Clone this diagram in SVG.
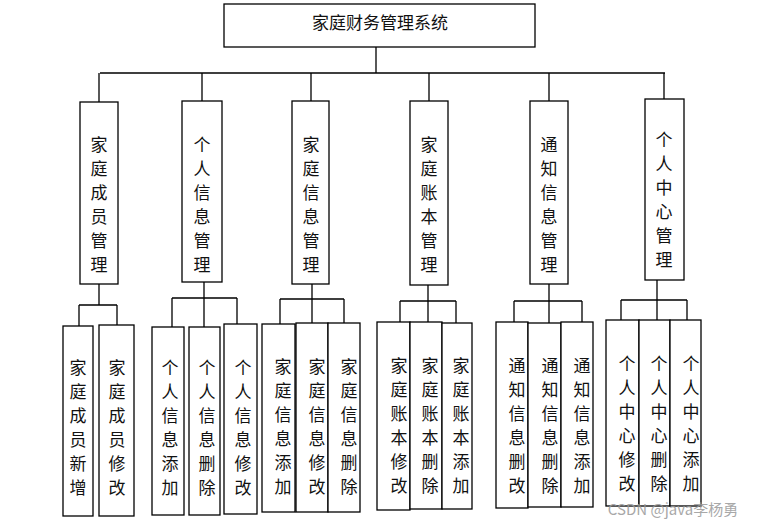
<svg xmlns="http://www.w3.org/2000/svg" width="767" height="527" viewBox="0 0 767 527">
<style>
rect{fill:#fff;stroke:#000;stroke-width:1.3}
line,path{stroke:#000;stroke-width:1.3;fill:none}
text{font-family:"Noto Sans CJK SC","Noto Sans CJK JP",sans-serif;font-size:17px;fill:#111;text-anchor:middle}
</style>
<rect width="767" height="527" style="stroke:none"/>
<g id="connectors">
<path d="M376 47V73M100 73H665M99 73V102M202 73V101M311 73V101M429 73V101M549 73V101M664 73V99"/>
<path d="M99 284V305M79 305H117M79 305V326M117 305V325"/>
<path d="M204 282V298M172 298H237M172 298V327M204 298V327M237 298V324"/>
<path d="M312 284V299M280 299H344M280 299V324M312 299V323M344 299V323"/>
<path d="M428 285V301M400 301H456M400 301V322M428 301V322M456 301V323"/>
<path d="M549 284V301M514 301H582M514 301V322M549 301V323M582 301V322"/>
<path d="M657 280V300M621 300H687M621 300V320M657 300V320M687 300V320"/>
</g>
<g id="root"><rect x="224" y="4" width="311" height="43"/><text x="380" y="29">家庭财务管理系统</text></g>
<g id="m1"><rect x="80" y="102" width="38" height="182"/><text x="99" y="151"><tspan x="99">家</tspan><tspan x="99" dy="24">庭</tspan><tspan x="99" dy="24">成</tspan><tspan x="99" dy="24">员</tspan><tspan x="99" dy="24">管</tspan><tspan x="99" dy="24">理</tspan></text></g>
<g id="m2"><rect x="182" y="101" width="40" height="181"/><text x="202" y="151"><tspan x="202">个</tspan><tspan x="202" dy="24">人</tspan><tspan x="202" dy="24">信</tspan><tspan x="202" dy="24">息</tspan><tspan x="202" dy="24">管</tspan><tspan x="202" dy="24">理</tspan></text></g>
<g id="m3"><rect x="292" y="101" width="37" height="183"/><text x="311" y="151"><tspan x="311">家</tspan><tspan x="311" dy="24">庭</tspan><tspan x="311" dy="24">信</tspan><tspan x="311" dy="24">息</tspan><tspan x="311" dy="24">管</tspan><tspan x="311" dy="24">理</tspan></text></g>
<g id="m4"><rect x="410" y="101" width="38" height="184"/><text x="429" y="151"><tspan x="429">家</tspan><tspan x="429" dy="24">庭</tspan><tspan x="429" dy="24">账</tspan><tspan x="429" dy="24">本</tspan><tspan x="429" dy="24">管</tspan><tspan x="429" dy="24">理</tspan></text></g>
<g id="m5"><rect x="530" y="101" width="38" height="183"/><text x="549" y="151"><tspan x="549">通</tspan><tspan x="549" dy="24">知</tspan><tspan x="549" dy="24">信</tspan><tspan x="549" dy="24">息</tspan><tspan x="549" dy="24">管</tspan><tspan x="549" dy="24">理</tspan></text></g>
<g id="m6"><rect x="645" y="99" width="39" height="181"/><text x="664" y="146"><tspan x="664">个</tspan><tspan x="664" dy="24">人</tspan><tspan x="664" dy="24">中</tspan><tspan x="664" dy="24">心</tspan><tspan x="664" dy="24">管</tspan><tspan x="664" dy="24">理</tspan></text></g>
<g id="l1a"><rect x="63" y="326" width="30" height="190"/><text x="78" y="374"><tspan x="78">家</tspan><tspan x="78" dy="24">庭</tspan><tspan x="78" dy="24">成</tspan><tspan x="78" dy="24">员</tspan><tspan x="78" dy="24">新</tspan><tspan x="78" dy="24">增</tspan></text></g>
<g id="l1b"><rect x="99" y="325" width="35" height="191"/><text x="117" y="374"><tspan x="117">家</tspan><tspan x="117" dy="24">庭</tspan><tspan x="117" dy="24">成</tspan><tspan x="117" dy="24">员</tspan><tspan x="117" dy="24">修</tspan><tspan x="117" dy="24">改</tspan></text></g>
<g id="l2a"><rect x="152" y="327" width="32" height="188"/><text x="170" y="374"><tspan x="170">个</tspan><tspan x="170" dy="24">人</tspan><tspan x="170" dy="24">信</tspan><tspan x="170" dy="24">息</tspan><tspan x="170" dy="24">添</tspan><tspan x="170" dy="24">加</tspan></text></g>
<g id="l2b"><rect x="189" y="327" width="31" height="188"/><text x="207" y="374"><tspan x="207">个</tspan><tspan x="207" dy="24">人</tspan><tspan x="207" dy="24">信</tspan><tspan x="207" dy="24">息</tspan><tspan x="207" dy="24">删</tspan><tspan x="207" dy="24">除</tspan></text></g>
<g id="l2c"><rect x="224" y="324" width="33" height="190"/><text x="243" y="374"><tspan x="243">个</tspan><tspan x="243" dy="24">人</tspan><tspan x="243" dy="24">信</tspan><tspan x="243" dy="24">息</tspan><tspan x="243" dy="24">修</tspan><tspan x="243" dy="24">改</tspan></text></g>
<g id="l3a"><rect x="262" y="324" width="33" height="188"/><text x="283" y="373"><tspan x="283">家</tspan><tspan x="283" dy="24">庭</tspan><tspan x="283" dy="24">信</tspan><tspan x="283" dy="24">息</tspan><tspan x="283" dy="24">添</tspan><tspan x="283" dy="24">加</tspan></text></g>
<g id="l3b"><rect x="296" y="323" width="32" height="189"/><text x="317" y="373"><tspan x="317">家</tspan><tspan x="317" dy="24">庭</tspan><tspan x="317" dy="24">信</tspan><tspan x="317" dy="24">息</tspan><tspan x="317" dy="24">修</tspan><tspan x="317" dy="24">改</tspan></text></g>
<g id="l3c"><rect x="328" y="323" width="32" height="189"/><text x="349" y="373"><tspan x="349">家</tspan><tspan x="349" dy="24">庭</tspan><tspan x="349" dy="24">信</tspan><tspan x="349" dy="24">息</tspan><tspan x="349" dy="24">删</tspan><tspan x="349" dy="24">除</tspan></text></g>
<g id="l4a"><rect x="377" y="322" width="33" height="188"/><text x="399" y="372"><tspan x="399">家</tspan><tspan x="399" dy="24">庭</tspan><tspan x="399" dy="24">账</tspan><tspan x="399" dy="24">本</tspan><tspan x="399" dy="24">修</tspan><tspan x="399" dy="24">改</tspan></text></g>
<g id="l4b"><rect x="410" y="322" width="32" height="187"/><text x="430" y="372"><tspan x="430">家</tspan><tspan x="430" dy="24">庭</tspan><tspan x="430" dy="24">账</tspan><tspan x="430" dy="24">本</tspan><tspan x="430" dy="24">删</tspan><tspan x="430" dy="24">除</tspan></text></g>
<g id="l4c"><rect x="442" y="323" width="30" height="186"/><text x="461" y="372"><tspan x="461">家</tspan><tspan x="461" dy="24">庭</tspan><tspan x="461" dy="24">账</tspan><tspan x="461" dy="24">本</tspan><tspan x="461" dy="24">添</tspan><tspan x="461" dy="24">加</tspan></text></g>
<g id="l5a"><rect x="496" y="322" width="32" height="186"/><text x="517" y="372"><tspan x="517">通</tspan><tspan x="517" dy="24">知</tspan><tspan x="517" dy="24">信</tspan><tspan x="517" dy="24">息</tspan><tspan x="517" dy="24">删</tspan><tspan x="517" dy="24">改</tspan></text></g>
<g id="l5b"><rect x="528" y="323" width="33" height="184"/><text x="550" y="372"><tspan x="550">通</tspan><tspan x="550" dy="24">知</tspan><tspan x="550" dy="24">信</tspan><tspan x="550" dy="24">息</tspan><tspan x="550" dy="24">删</tspan><tspan x="550" dy="24">除</tspan></text></g>
<g id="l5c"><rect x="561" y="322" width="32" height="185"/><text x="582" y="372"><tspan x="582">通</tspan><tspan x="582" dy="24">知</tspan><tspan x="582" dy="24">信</tspan><tspan x="582" dy="24">息</tspan><tspan x="582" dy="24">添</tspan><tspan x="582" dy="24">加</tspan></text></g>
<g id="l6a"><rect x="606" y="320" width="33" height="186"/><text x="627" y="370"><tspan x="627">个</tspan><tspan x="627" dy="24">人</tspan><tspan x="627" dy="24">中</tspan><tspan x="627" dy="24">心</tspan><tspan x="627" dy="24">修</tspan><tspan x="627" dy="24">改</tspan></text></g>
<g id="l6b"><rect x="639" y="320" width="31" height="186"/><text x="659" y="370"><tspan x="659">个</tspan><tspan x="659" dy="24">人</tspan><tspan x="659" dy="24">中</tspan><tspan x="659" dy="24">心</tspan><tspan x="659" dy="24">删</tspan><tspan x="659" dy="24">除</tspan></text></g>
<g id="l6c"><rect x="670" y="320" width="31" height="186"/><text x="691" y="370"><tspan x="691">个</tspan><tspan x="691" dy="24">人</tspan><tspan x="691" dy="24">中</tspan><tspan x="691" dy="24">心</tspan><tspan x="691" dy="24">添</tspan><tspan x="691" dy="24">加</tspan></text></g>
<text x="673" y="515" style="font-size:15px;fill:#999;opacity:0.85">CSDN @java李杨勇</text>
</svg>
